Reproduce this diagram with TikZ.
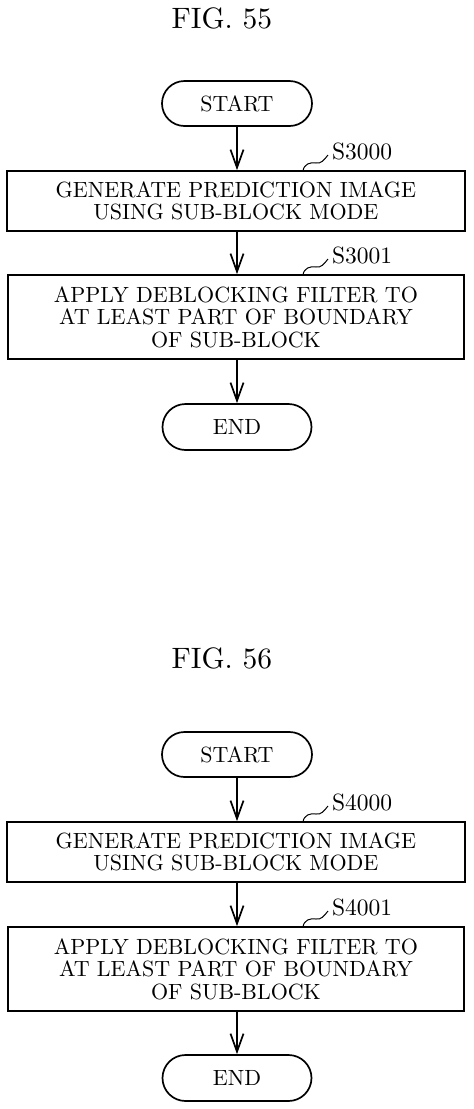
\documentclass[tikz,border=0pt]{standalone}
\usetikzlibrary{arrows.meta,shapes.misc}
\font\boxf=cmr10 at 22pt
\font\titlef=cmr10 at 29.5pt
\font\labf=cmr10 at 23.5pt
\begin{document}
\begin{tikzpicture}[x=1pt,y=-1pt,
  base/.style={font={\boxf\baselineskip=22.5pt}, inner sep=0pt},
  term/.style={base, draw, line width=1.7pt, rounded rectangle, minimum width=150pt, minimum height=45pt},
  proc/.style={base, draw, line width=1.7pt, rectangle, align=center},
  title/.style={font=\titlef, inner sep=0pt, anchor=base},
  steplabel/.style={font=\labf, inner sep=0pt, anchor=base west},
  flow/.style={line width=1.7pt, -{Straight Barb[length=18pt,width=13pt,line width=1.7pt]}},
  lead/.style={line width=1pt}]
\useasboundingbox (0,0) rectangle (474,1109);
\fill[white] (0,0) rectangle (474,1109);
% FIG. 55
\node[title] (t55) at (222,28) {FIG. 55};
\node[term] (start55) at (237,103.5) {START};
\node[proc, minimum width=458pt, minimum height=60pt] (a55) at (236,201) {GENERATE PREDICTION IMAGE\\USING SUB-BLOCK MODE};
\node[proc, minimum width=456pt, minimum height=84pt] (b55) at (236,317) {APPLY DEBLOCKING FILTER TO\\AT LEAST PART OF BOUNDARY\\OF SUB-BLOCK};
\node[term, minimum width=149pt, minimum height=46pt] (end55) at (237,427) {END};
\draw[flow] (start55.south) -- (start55.south |- a55.north);
\draw[flow] (a55.south -| start55.south) -- (start55.south |- b55.north);
\draw[flow] (b55.south -| start55.south) -- (end55.north);
\node[steplabel] (l3000) at (332,159) {S3000};
\node[steplabel] (l3001) at (332,263) {S3001};
\coordinate (c3000) at (303,171);
\coordinate (c3001) at (303,275);
\draw[lead] (c3000) .. controls (304,164) and (310,162) .. (316,163) .. controls (321,164) and (324,160) .. (328,155);
\draw[lead] (c3001) .. controls (304,268) and (310,266) .. (316,267) .. controls (321,268) and (324,264) .. (328,259);
% FIG. 56
\node[title] (t56) at (222,668) {FIG. 56};
\node[term] (start56) at (237,754.5) {START};
\node[proc, minimum width=458pt, minimum height=60pt] (a56) at (236,852) {GENERATE PREDICTION IMAGE\\USING SUB-BLOCK MODE};
\node[proc, minimum width=456pt, minimum height=84pt] (b56) at (236,969) {APPLY DEBLOCKING FILTER TO\\AT LEAST PART OF BOUNDARY\\OF SUB-BLOCK};
\node[term, minimum width=149pt, minimum height=46pt] (end56) at (237,1078) {END};
\draw[flow] (start56.south) -- (start56.south |- a56.north);
\draw[flow] (a56.south -| start56.south) -- (start56.south |- b56.north);
\draw[flow] (b56.south -| start56.south) -- (end56.north);
\node[steplabel] (l4000) at (332,810) {S4000};
\node[steplabel] (l4001) at (332,915) {S4001};
\coordinate (c4000) at (303,822);
\coordinate (c4001) at (303,927);
\draw[lead] (c4000) .. controls (304,815) and (310,813) .. (316,814) .. controls (321,815) and (324,811) .. (328,806);
\draw[lead] (c4001) .. controls (304,920) and (310,918) .. (316,919) .. controls (321,920) and (324,916) .. (328,911);
\end{tikzpicture}
\end{document}
